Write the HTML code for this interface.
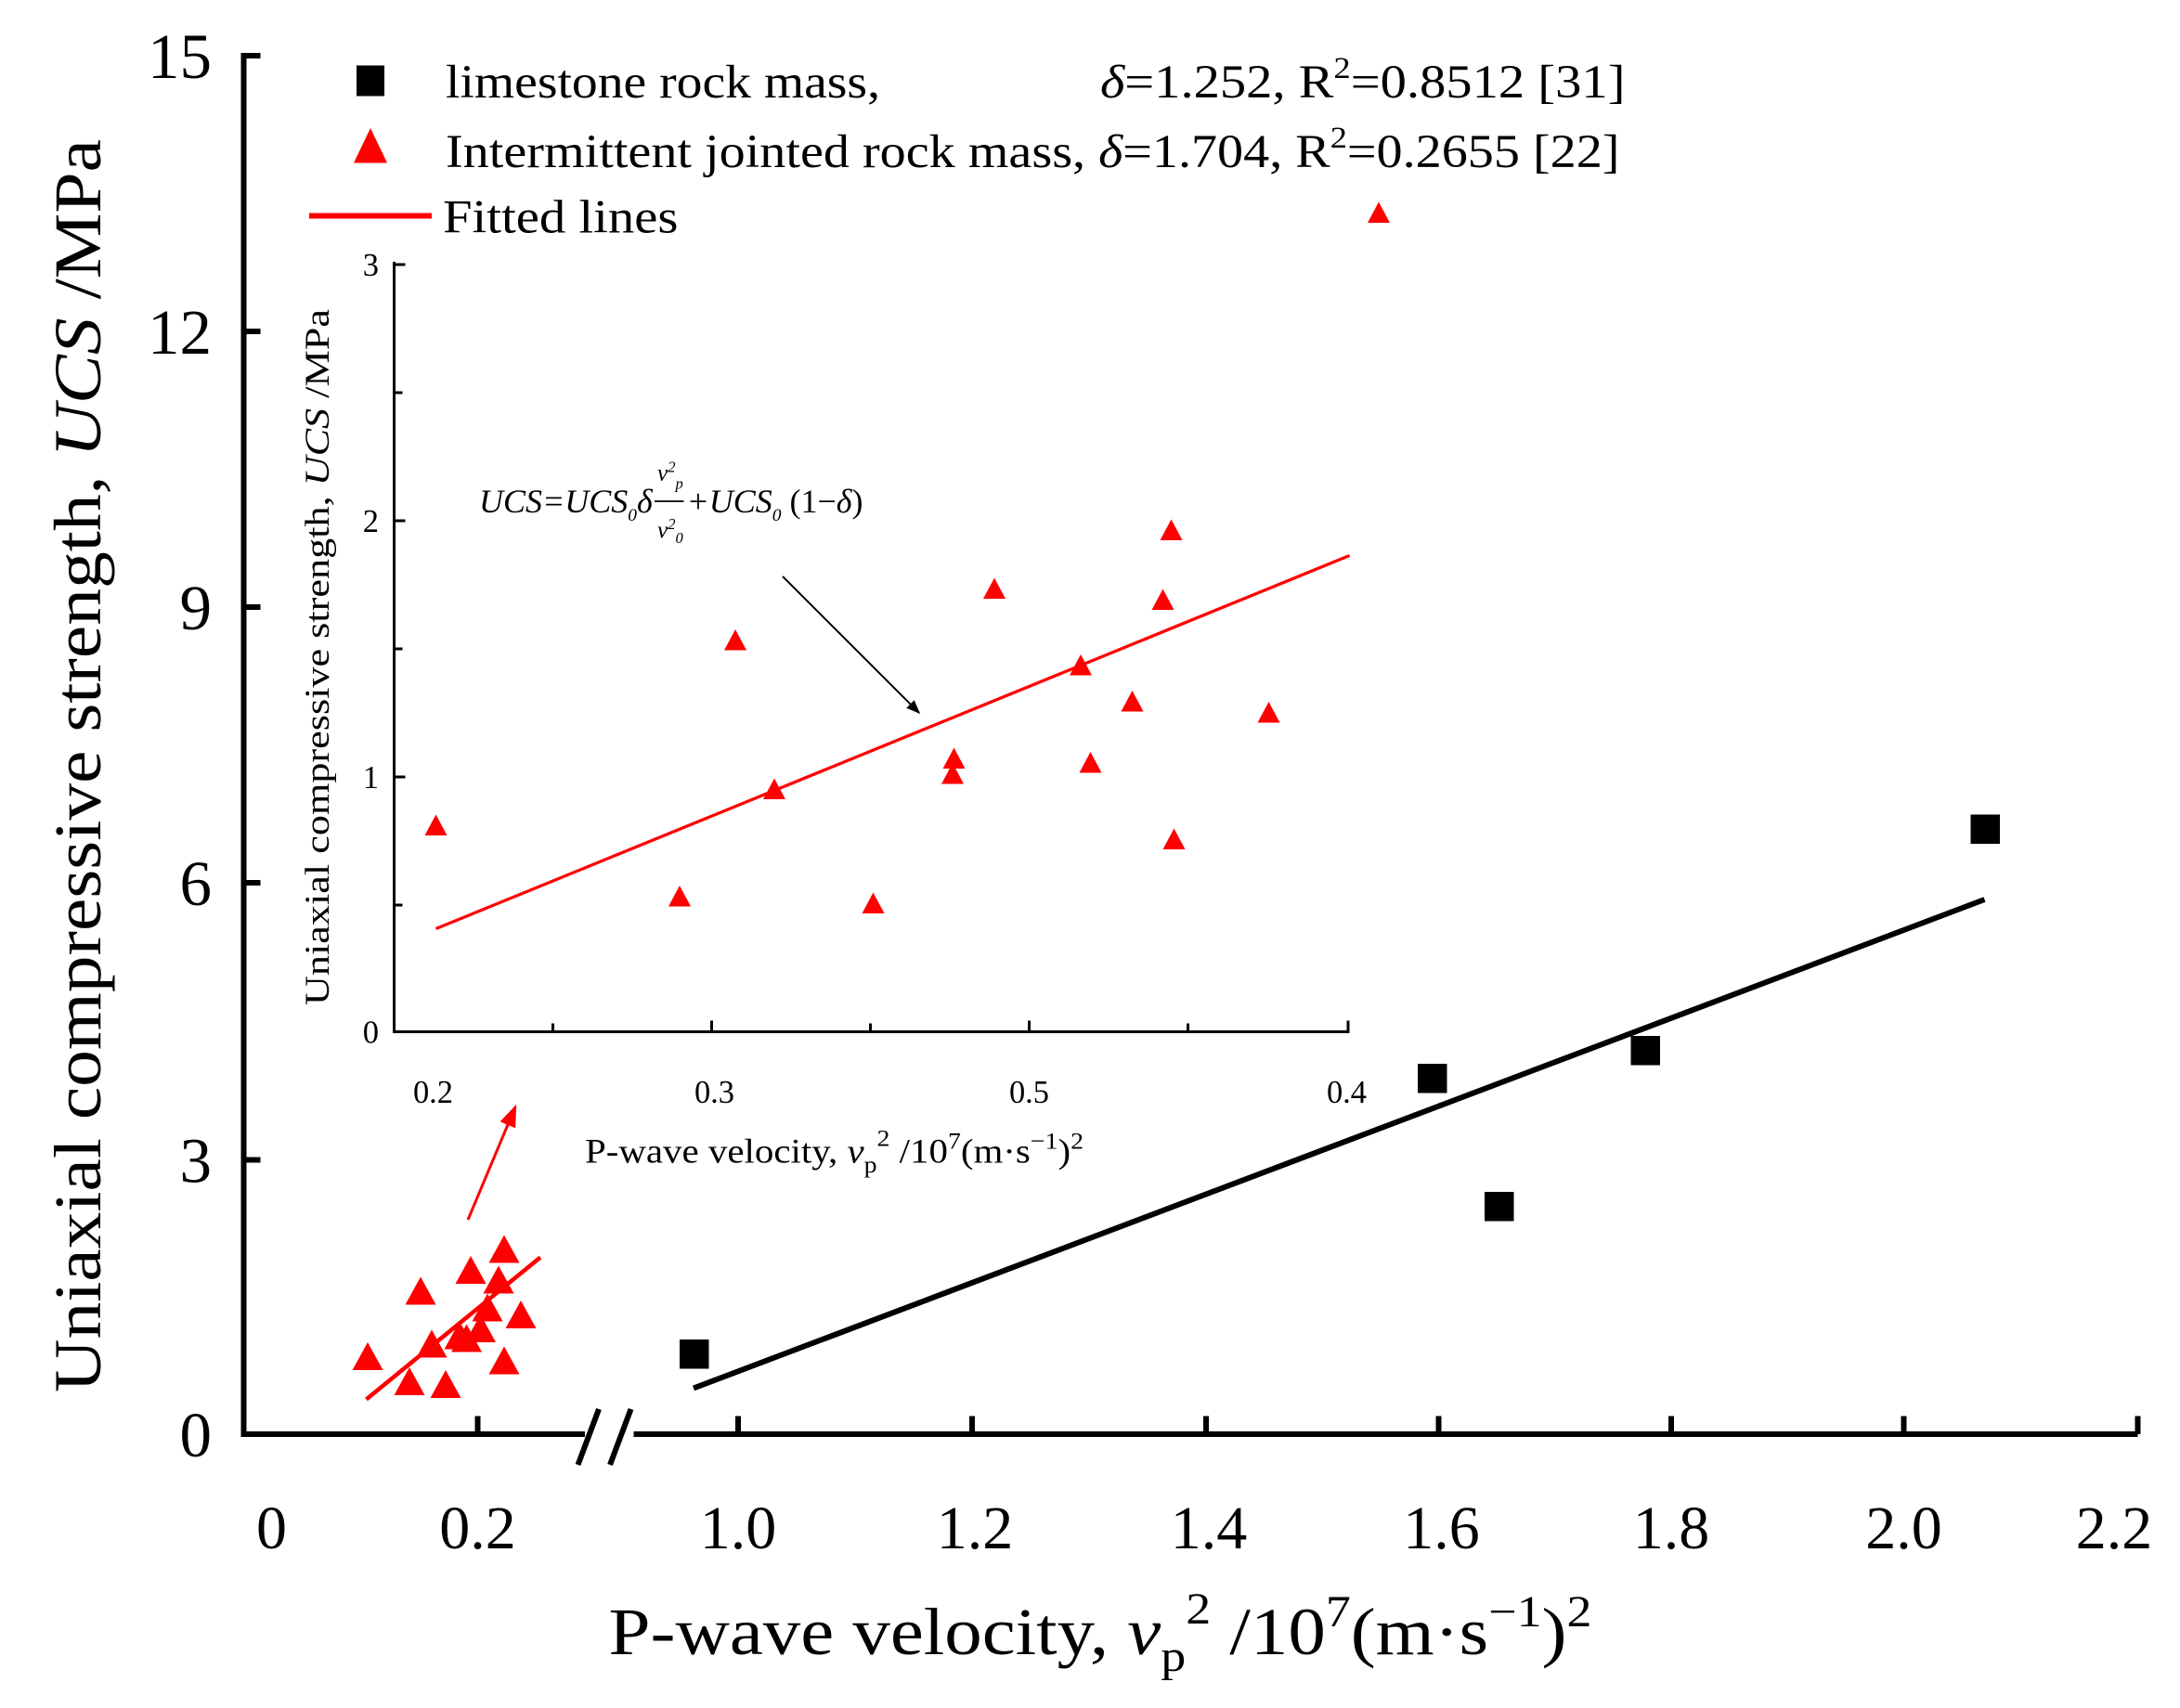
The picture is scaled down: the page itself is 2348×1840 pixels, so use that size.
<!DOCTYPE html>
<html><head><meta charset="utf-8"><style>html,body{margin:0;padding:0;background:#fff}svg{display:block}text{font-family:"Liberation Serif",serif;fill:#000}</style></head><body>
<svg width="2348" height="1840" viewBox="0 0 1565.33 1226.67" xmlns="http://www.w3.org/2000/svg">
<defs>
<polygon id="t" points="0,-11 11,9 -11,9" fill="#ff0000"/>
<polygon id="ts" points="0,-8 8,7 -8,7" fill="#ff0000"/>
<marker id="ah" markerWidth="10" markerHeight="10" refX="9" refY="5" orient="auto" markerUnits="userSpaceOnUse"><path d="M0,1 L10,5 L0,9 z" fill="#000"/></marker>
<marker id="ahr" markerWidth="16" markerHeight="16" refX="14" refY="8" orient="auto" markerUnits="userSpaceOnUse"><path d="M0,2 L16,8 L0,14 z" fill="#ff0000"/></marker>
</defs>
<g stroke="#000" stroke-width="4" fill="none">
<path d="M175,38 V1030 H420 M455,1030 H1535"/>
<path d="M175,40 H187 M175,238 H187 M175,436 H187 M175,634 H187 M175,833 H187"/>
<path d="M343,1030 V1017 M530,1030 V1017 M698,1030 V1017 M866,1030 V1017 M1033,1030 V1017 M1200,1030 V1017 M1367,1030 V1017 M1535,1030 V1017"/>
<path d="M415,1052 L430,1012 M438,1052 L453,1012" stroke-width="4"/>
</g>
<g font-size="46" text-anchor="end">
<text x="152" y="56">15</text><text x="152" y="254">12</text><text x="152" y="452">9</text><text x="152" y="650">6</text><text x="152" y="849">3</text><text x="152" y="1046">0</text>
</g>
<g font-size="44" text-anchor="middle">
<text x="195" y="1112">0</text><text x="343" y="1112">0.2</text><text x="530" y="1112">1.0</text><text x="700" y="1112">1.2</text><text x="868" y="1112">1.4</text><text x="1035" y="1112">1.6</text><text x="1200" y="1112">1.8</text><text x="1367" y="1112">2.0</text><text x="1518" y="1112">2.2</text>
</g>
<text x="437" y="1188" font-size="48" textLength="706" lengthAdjust="spacingAndGlyphs">P-wave velocity, <tspan font-style="italic">v</tspan><tspan font-size="32" dy="12">p</tspan><tspan font-size="32" dy="-34">2</tspan><tspan dy="22"> /10</tspan><tspan font-size="32" dy="-20">7</tspan><tspan dy="20">(m·s</tspan><tspan font-size="32" dy="-20">−1</tspan><tspan dy="20">)</tspan><tspan font-size="32" dy="-20">2</tspan></text>
<text transform="translate(72,1000) rotate(-90)" font-size="48" textLength="900" lengthAdjust="spacingAndGlyphs">Uniaxial compressive strength, <tspan font-style="italic">UCS</tspan> /MPa</text>
<rect x="256" y="47" width="20" height="22" fill="#000"/>
<text x="320" y="70" font-size="34" textLength="312" lengthAdjust="spacingAndGlyphs">limestone rock mass,</text>
<text x="790" y="70" font-size="34" textLength="377" lengthAdjust="spacingAndGlyphs"><tspan font-style="italic">δ</tspan>=1.252, R<tspan font-size="22" dy="-14">2</tspan><tspan dy="14">=0.8512 [31]</tspan></text>
<polygon points="266,92 278,117 254,117" fill="#ff0000"/>
<text x="320" y="120" font-size="34" textLength="843" lengthAdjust="spacingAndGlyphs">Intermittent jointed rock mass, <tspan font-style="italic">δ</tspan>=1.704, R<tspan font-size="22" dy="-14">2</tspan><tspan dy="14">=0.2655 [22]</tspan></text>
<path d="M222,155 H310" stroke="#ff0000" stroke-width="4"/>
<text x="318" y="167" font-size="34" textLength="169" lengthAdjust="spacingAndGlyphs">Fitted lines</text>
<path d="M498,997 L1425,646" stroke="#000" stroke-width="4"/>
<g fill="#000">
<rect x="488" y="962" width="21" height="21"/><rect x="1018" y="764" width="21" height="21"/><rect x="1066" y="856" width="21" height="21"/><rect x="1171" y="744" width="21" height="21"/><rect x="1415" y="585" width="21" height="21"/>
</g>
<g>
<use href="#t" x="264" y="975"/><use href="#t" x="302" y="928"/><use href="#t" x="294" y="993"/><use href="#t" x="320" y="995"/><use href="#t" x="310" y="966"/><use href="#t" x="338" y="913"/><use href="#t" x="362" y="898"/><use href="#t" x="358" y="920"/><use href="#t" x="350" y="940"/><use href="#t" x="345" y="955"/><use href="#t" x="330" y="960"/><use href="#t" x="374" y="945"/><use href="#t" x="362" y="978"/><use href="#t" x="335" y="962"/>
</g>
<path d="M263,1005 L388,903" stroke="#ff0000" stroke-width="3"/>
<path d="M336,876 L370,795" stroke="#ff0000" stroke-width="2" marker-end="url(#ahr)"/>
<use href="#ts" x="990" y="153"/>
<g stroke="#000" stroke-width="2" fill="none">
<path d="M283,188 V741 H968 V733"/>
<path d="M283,190 H291 M283,282 H289 M283,374 H291 M283,466 H289 M283,558 H291 M283,650 H289"/>
<path d="M397,741 V735 M511,741 V733 M625,741 V735 M739,741 V733 M853,741 V735"/>
</g>
<g font-size="23" text-anchor="end">
<text x="272" y="198">3</text><text x="272" y="382">2</text><text x="272" y="566">1</text><text x="272" y="749">0</text>
</g>
<g font-size="23" text-anchor="middle">
<text x="311" y="792">0.2</text><text x="513" y="792">0.3</text><text x="739" y="792">0.5</text><text x="967" y="792">0.4</text>
</g>
<text x="420" y="835" font-size="25" textLength="358" lengthAdjust="spacingAndGlyphs">P-wave velocity, <tspan font-style="italic">v</tspan><tspan font-size="17" dy="7">p</tspan><tspan font-size="17" dy="-19">2</tspan><tspan dy="12"> /10</tspan><tspan font-size="17" dy="-10">7</tspan><tspan dy="10">(m·s</tspan><tspan font-size="17" dy="-10">−1</tspan><tspan dy="10">)</tspan><tspan font-size="17" dy="-10">2</tspan></text>
<text transform="translate(236,722) rotate(-90)" font-size="25" textLength="500" lengthAdjust="spacingAndGlyphs">Uniaxial compressive strength, <tspan font-style="italic">UCS</tspan> /MPa</text>
<text x="344" y="368" font-size="24" font-style="italic">UCS=UCS<tspan font-size="13" dy="6">0</tspan><tspan dy="-6">δ</tspan></text>
<text x="472" y="345" font-size="17" font-style="italic">v<tspan font-size="11" dy="-6">2</tspan><tspan font-size="11" dy="12">p</tspan></text>
<path d="M470,360 H491" stroke="#000" stroke-width="1.2"/>
<text x="472" y="386" font-size="17" font-style="italic">v<tspan font-size="11" dy="-6">2</tspan><tspan font-size="11" dy="10">0</tspan></text>
<text x="493" y="368" font-size="24" font-style="italic">+UCS<tspan font-size="13" dy="6">0</tspan><tspan dy="-6" font-style="normal"> (1−</tspan>δ<tspan font-style="normal">)</tspan></text>
<path d="M562,414 L660,512" stroke="#000" stroke-width="1.3" marker-end="url(#ah)"/>
<path d="M313,667 L969,399" stroke="#ff0000" stroke-width="2.2"/>
<g>
<use href="#ts" x="313" y="593"/><use href="#ts" x="488" y="644"/><use href="#ts" x="528" y="460"/><use href="#ts" x="556" y="567"/><use href="#ts" x="627" y="649"/><use href="#ts" x="685" y="545"/><use href="#ts" x="684" y="556"/><use href="#ts" x="714" y="423"/><use href="#ts" x="776" y="478"/><use href="#ts" x="783" y="548"/><use href="#ts" x="813" y="504"/><use href="#ts" x="835" y="431"/><use href="#ts" x="841" y="381"/><use href="#ts" x="843" y="603"/><use href="#ts" x="911" y="512"/>
</g>
</svg>
</body></html>
